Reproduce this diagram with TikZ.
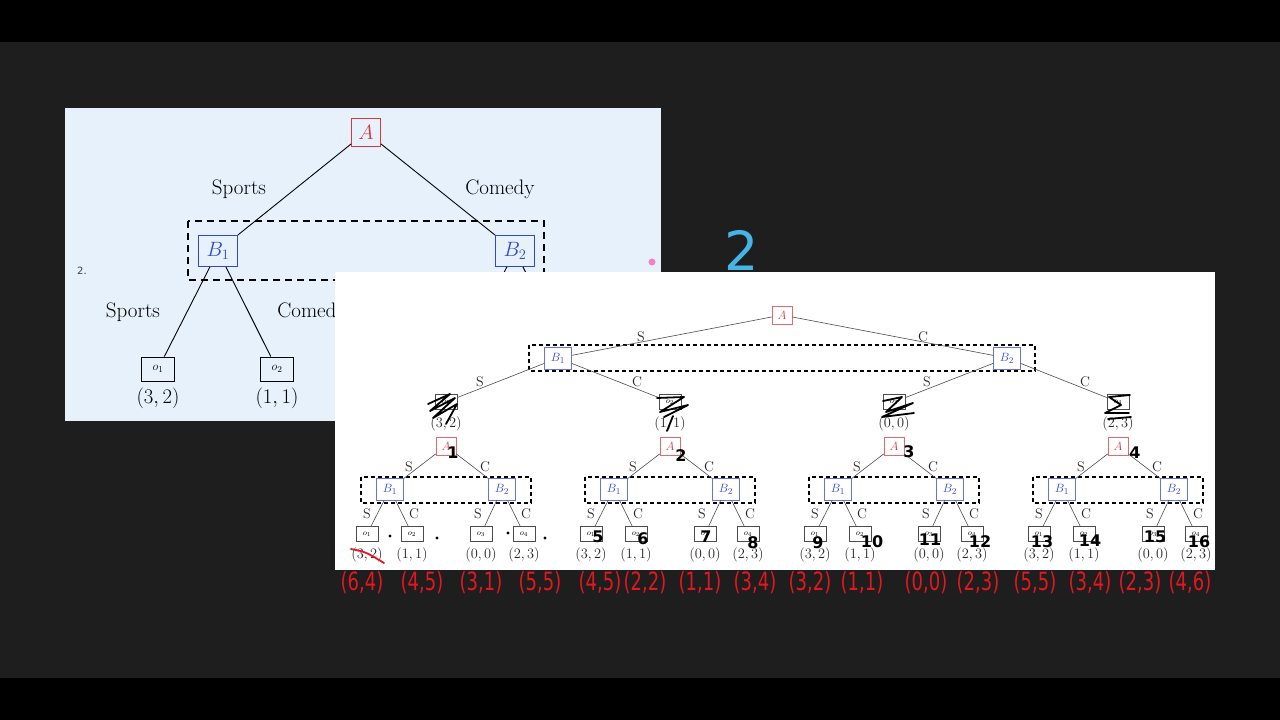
\documentclass[tikz,border=0pt]{standalone}
\usepackage{fontspec}
\usetikzlibrary{positioning}
\definecolor{pa}{HTML}{D8383B}
\definecolor{pb}{HTML}{3646C9}
\definecolor{slide}{HTML}{E7F1FB}
\definecolor{desk}{HTML}{1E1E1E}
\definecolor{ink}{HTML}{E4161F}
\definecolor{pen}{HTML}{45B5E5}
\newfontfamily\handfont{DejaVu Sans}

\begin{document}
\begin{tikzpicture}[x=1pt, y=-1pt,
  lA/.style={draw=pa, text=pa, line width=.9pt, inner sep=0pt, minimum width=29pt, minimum height=28pt, font=\fontsize{21}{24}\selectfont},
  lB/.style={draw=pb, text=pb, line width=.9pt, inner sep=0pt, minimum width=39pt, minimum height=31pt, font=\fontsize{21}{24}\selectfont},
  lO/.style={draw, line width=.9pt, inner sep=0pt, minimum width=33pt, minimum height=24pt, font=\fontsize{13}{15}\selectfont},
  lT/.style={font=\fontsize{21}{24}\selectfont},
  ledge/.style={line width=.9pt},
  ldash/.style={line width=1.6pt, dash pattern=on 7pt off 5pt},
  sA/.style={draw=pa!75, text=pa, line width=.6pt, inner sep=0pt, minimum width=20pt, minimum height=18pt, font=\fontsize{13}{15}\selectfont},
  sB/.style={draw=pb!75, text=pb, line width=.6pt, inner sep=0pt, minimum width=27pt, minimum height=22pt, font=\fontsize{13}{15}\selectfont},
  sO/.style={draw=black!70, line width=.6pt, inner sep=0pt, minimum width=22pt, minimum height=15pt, font=\fontsize{8}{9}\selectfont},
  sT/.style={font=\fontsize{14}{16}\selectfont, text=black!85},
  sP/.style={font=\fontsize{14}{16}\selectfont, text=black!85},
  sedge/.style={draw=black!70, line width=.6pt},
  sdash/.style={line width=1.1pt, dash pattern=on 4pt off 3pt},
  hand/.style={font=\handfont\bfseries\fontsize{16}{16}\selectfont, text=black},
  redhand/.style={font=\handfont\fontsize{18}{18}\selectfont, text=ink},
  scrib/.style={line width=1.8pt, line join=round, line cap=round}]
\useasboundingbox (0,0) rectangle (1280,720);
\fill[black] (0,0) rectangle (1280,720);
\fill[desk] (0,42) rectangle (1280,678);

% slide behind
\fill[slide] (65,108) rectangle (661,421);
\draw[ldash] (188,221) rectangle (544,280);
\node[lA] (A) at (366,132) {$A$};
\node[lB] (B1) at (218,251) {$B_1$};
\node[lB] (B2) at (515,251) {$B_2$};
\node[lO] (o1) at (158,369) {$o_1$};
\node[lO] (o2) at (277,369) {$o_2$};
\coordinate (o3) at (455,369);
\coordinate (o4) at (574,369);
\node[lT] (p1) at (158,398) {$(3,2)$};
\node[lT] (p2) at (277,398) {$(1,1)$};
\node[lT] (sp) at (239,189) {Sports};
\node[lT] (cm) at (500,189) {Comedy};
\node[lT] (sp1) at (133,312) {Sports};
\node[lT] (cm1) at (312,312) {Comedy};
\foreach \x/\y in {A/B1,A/B2,B1/o1,B1/o2,B2/o3,B2/o4} \draw[ledge] (\x) -- (\y);
\node[font=\handfont\fontsize{10}{10}\selectfont, text=black!75] (num) at (82,271) {2.};
\fill[magenta!50] (652,262) circle (3.5);

% slide in front
\fill[white] (335,272) rectangle (1215,570);
\draw[sdash] (529,345) rectangle (1035,371);
\node[sA] (tA) at (782,315) {$A$};
\node[sB] (tB1) at (558,358) {$B_1$};
\node[sB] (tB2) at (1007,358) {$B_2$};
\node[sT] (ts) at (641,337) {S};
\node[sT] (tc) at (923,337) {C};
\draw[sedge] (tA) -- (tB1);
\draw[sedge] (tA) -- (tB2);
\foreach \i/\x/\pay in {1/446/{(3,2)},2/670/{(1,1)},3/894/{(0,0)},4/1118/{(2,3)}} {
  \node[sO] (t\i) at (\x,402) {$o_\i$};
  \node[sP] (tp\i) at (\x,424) {$\pay$};
  % repeated stage
  \draw[sdash] (\x-85,477) rectangle (\x+85,503);
  \node[sA] (a\i) at (\x,446) {$A$};
  \node[sB] (bl\i) at (\x-56,489) {$B_1$};
  \node[sB] (br\i) at (\x+56,489) {$B_2$};
  \node[sT] (as\i) at (\x-37,467) {S};
  \node[sT] (ac\i) at (\x+39,467) {C};
  \foreach \j/\dx/\lx/\lab/\q in {1/-79/-79/S/{(3,2)},2/-34/-32/C/{(1,1)},3/35/32/S/{(0,0)},4/78/80/C/{(2,3)}} {
    \node[sO] (o\i-\j) at (\x+\dx,534) {$o_\j$};
    \node[sP] (q\i-\j) at (\x+\dx,555) {$\q$};
    \node[sT] (l\i-\j) at (\x+\lx,514) {\lab};
  }
  \draw[sedge] (a\i) -- (bl\i);
  \draw[sedge] (a\i) -- (br\i);
  \draw[sedge] (bl\i) -- (o\i-1);
  \draw[sedge] (bl\i) -- (o\i-2);
  \draw[sedge] (br\i) -- (o\i-3);
  \draw[sedge] (br\i) -- (o\i-4);
}
\node[sT] (s1) at (480,382) {S};
\node[sT] (c1) at (637,382) {C};
\node[sT] (s2) at (927,382) {S};
\node[sT] (c2) at (1085,382) {C};
\draw[sedge] (tB1) -- (t1);
\draw[sedge] (tB1) -- (t2);
\draw[sedge] (tB2) -- (t3);
\draw[sedge] (tB2) -- (t4);

% pen marks
\draw[scrib] (428,404) -- (450,394) -- (430,411) -- (455,398) -- (433,418) -- (457,404) -- (446,424);
\draw[scrib] (657,398) -- (684,397) -- (660,412) -- (688,405) -- (664,417);
\draw[scrib] (673,416) -- (667,431);
\draw[scrib] (883,401) -- (902,397) -- (886,412) -- (913,403) -- (882,417) -- (914,413);
\draw[scrib] (1130,395) -- (1109,397) -- (1121,405) -- (1105,413) -- (1129,413);
\draw[scrib] (1108,419) -- (1131,417);
\draw[ink, line width=1.8pt, line cap=round] (351,549) .. controls (366,552) .. (384,563);
\foreach \x/\y in {390/536,437/538,508/533,545/538} \fill (\x,\y) circle (1.6);
\foreach \n/\x/\y in {1/453/453,2/681/456,3/909/452,4/1135/453,5/598/537,6/643/539,7/706/537,8/753/543,9/818/543,10/872/542,11/930/540,12/980/542,13/1042/542,14/1090/541,15/1155/537,16/1199/542}
  \node[hand] (n\n) at (\x,\y) {\n};
\foreach \k/\x/\t in {1/362/{(6,4)},2/422/{(4,5)},3/481/{(3,1)},4/540/{(5,5)},5/600/{(4,5)},6/645/{(2,2)},7/700/{(1,1)},8/755/{(3,4)},9/810/{(3,2)},10/862/{(1,1)},11/926/{(0,0)},12/978/{(2,3)},13/1035/{(5,5)},14/1090/{(3,4)},15/1140/{(2,3)},16/1190/{(4,6)}}
  \node[redhand] (r\k) at (\x,583) {\scalebox{1}[1.4]{\t}};
\node[font=\handfont\fontsize{54}{54}\selectfont, text=pen] (two) at (742,250) {2};
\end{tikzpicture}
\end{document}
